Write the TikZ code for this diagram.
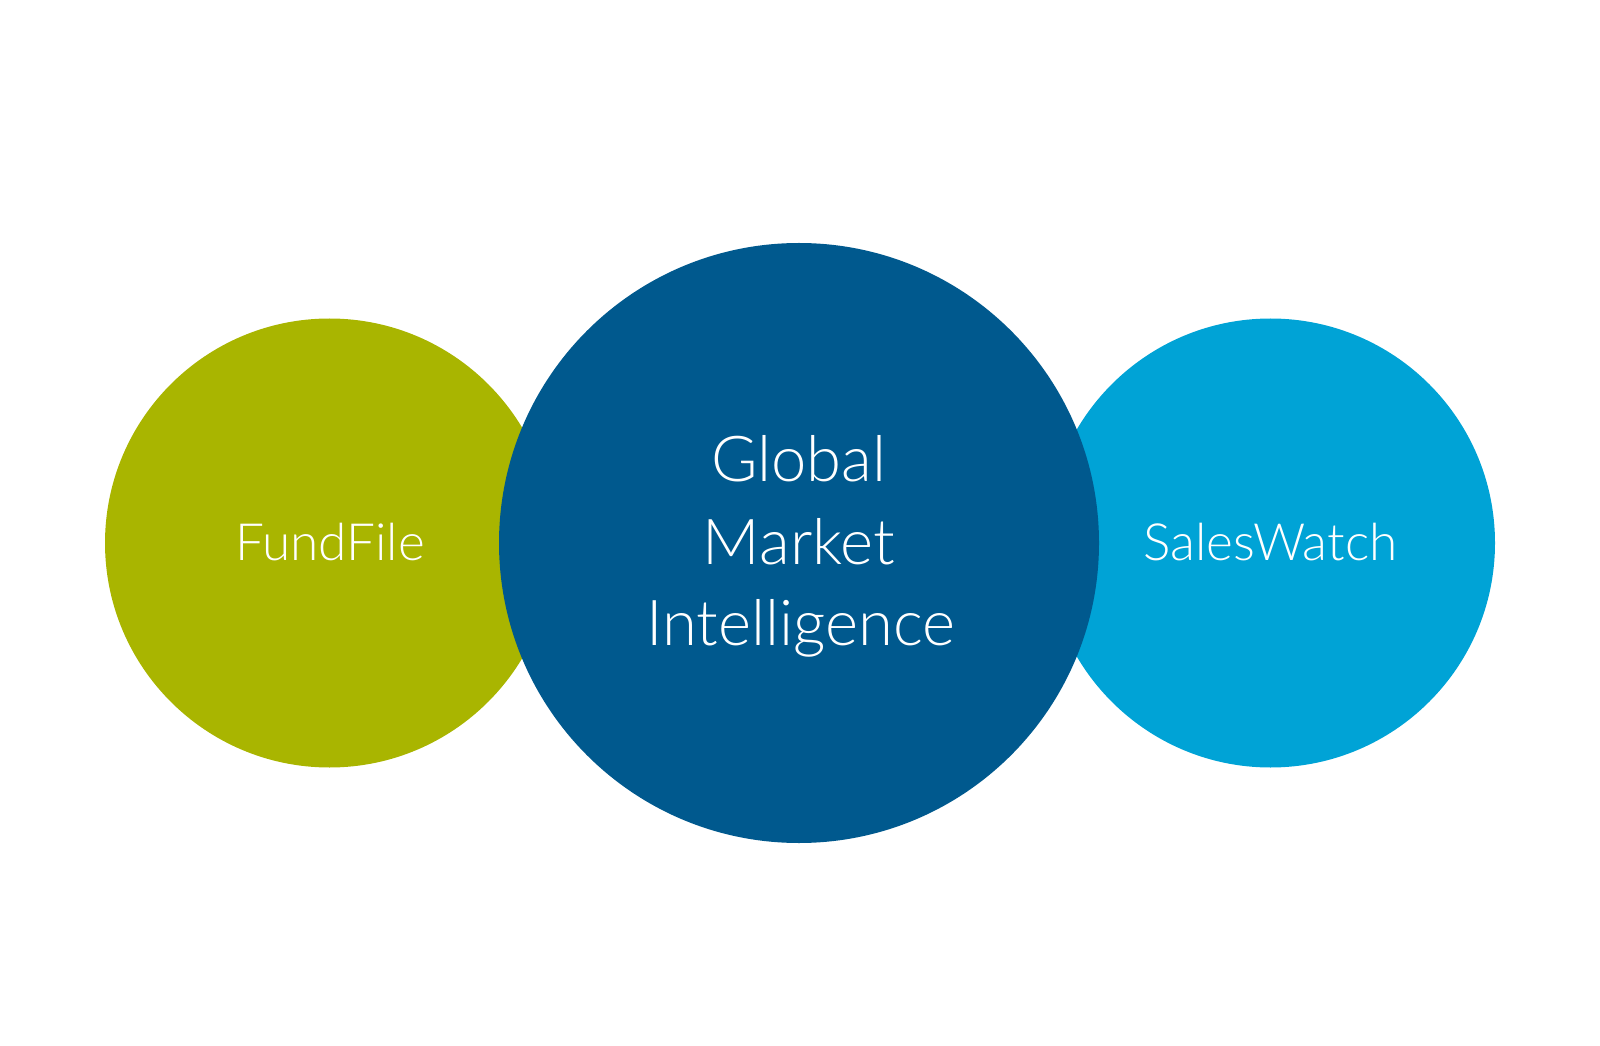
\documentclass[tikz,border=0pt]{standalone}
\usepackage{fontspec}
\setmainfont{Lato}[UprightFont=* Light]
\usetikzlibrary{positioning}

\definecolor{fundgreen}{HTML}{A9B500}
\definecolor{gmiblue}{HTML}{00598E}
\definecolor{salesblue}{HTML}{00A3D6}

\begin{document}
\begin{tikzpicture}[x=0.01cm, y=-0.01cm,
    bubble/.style={circle, inner sep=0pt, draw=none},
    smalltxt/.style={text=white, anchor=base, inner sep=0pt, font=\fontsize{14.6}{18}\selectfont},
    bigtxt/.style={text=white, anchor=base, inner sep=0pt, font=\fontsize{18}{22}\selectfont}]

    \useasboundingbox (0, 0) rectangle (1600, 1046);

    \def\ds{449}
    \def\db{600}

    % outer bubbles first, the big one sits on top
    \node[bubble, fill=fundgreen, minimum size=\ds*0.01cm] (fund) at (329.5, 543) {};
    \node[bubble, fill=salesblue, minimum size=\ds*0.01cm] (sales) at (1270.5, 543) {};
    \node[bubble, fill=gmiblue, minimum size=\db*0.01cm] (gmi) at (799, 543) {};

    \node[smalltxt] (fundtxt) at (330, 560.7) {FundFile};
    \node[smalltxt] (salestxt) at (1270.5, 560.7) {SalesWatch};

    \node[bigtxt] (global) at (799, 481.7) {Global};
    \node[bigtxt] (market) at (799, 564) {Market};
    \node[bigtxt] (intel) at (801, 645) {Intelligence};

\end{tikzpicture}
\end{document}
